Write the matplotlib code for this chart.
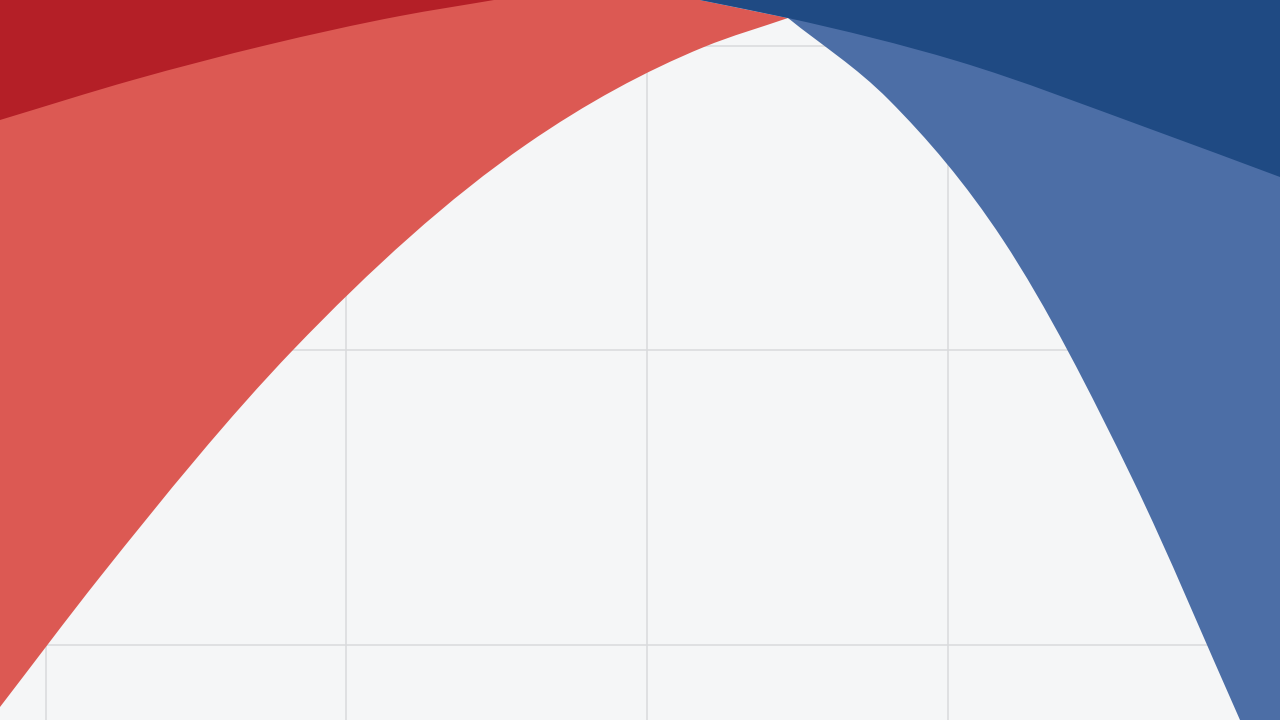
import matplotlib.pyplot as plt
from matplotlib.path import Path
from matplotlib.patches import PathPatch

# edge points (pixel units, y grows downward)
borde_izq_x = [0, 100, 293, 527, 704, 788]
borde_izq_y = [707, 577, 350, 144, 47, 18]

borde_der_x = [788, 889, 1003, 1133, 1240]
borde_der_y = [18, 100, 240, 480, 720]

borde_rojo_x = [0, 133, 267, 400, 494]
borde_rojo_y = [120, 80, 45, 16, 0]

borde_azul_x = [700, 788, 957, 1153, 1280]
borde_azul_y = [0, 18, 61, 130, 177]

grid_x = [46, 346, 647, 948]
grid_y = [46, 350, 645]


def curva(xs, ys):
    # cubic hermite pieces in x (like a monotone-x line) so the edge stays smooth
    n = len(xs)
    h = [xs[i + 1] - xs[i] for i in range(n - 1)]
    s = [(ys[i + 1] - ys[i]) / h[i] for i in range(n - 1)]
    m = [s[0]]
    for i in range(1, n - 1):
        m.append((s[i - 1] * h[i] + s[i] * h[i - 1]) / (h[i - 1] + h[i]))
    m.append(s[-1])
    verts = []
    for i in range(n - 1):
        d = h[i] / 3
        verts += [(xs[i] + d, ys[i] + m[i] * d),
                  (xs[i + 1] - d, ys[i + 1] - m[i + 1] * d),
                  (xs[i + 1], ys[i + 1])]
    return (xs[0], ys[0]), verts


def forma(ax, xs, ys, esquinas, color):
    inicio, verts = curva(xs, ys)
    v = [inicio] + verts
    codes = [Path.MOVETO] + [Path.CURVE4] * len(verts)
    for e in esquinas:
        v.append(e)
        codes.append(Path.LINETO)
    v.append(inicio)
    codes.append(Path.CLOSEPOLY)
    ax.add_patch(PathPatch(Path(v, codes), facecolor=color, lw=0, zorder=2))


fig = plt.figure(figsize=(12.8, 7.2), dpi=100)
fig.patch.set_facecolor('#f5f6f7')
ax = fig.add_axes([0, 0, 1, 1])
ax.set_facecolor('#f5f6f7')

# rojo claro: todo lo que queda a la izquierda del borde izquierdo
forma(ax, borde_izq_x, borde_izq_y, [(700, 0), (0, 0)], '#dc5953')
# azul claro: a la derecha del borde derecho
forma(ax, borde_der_x, borde_der_y, [(1280, 720), (1280, 0), (700, 0)], '#4c6ea6')
# franjas oscuras arriba
forma(ax, borde_rojo_x, borde_rojo_y, [(0, 0)], '#b41f27')
forma(ax, borde_azul_x, borde_azul_y, [(1280, 0)], '#1f4a83')

ax.set_xlim(0, 1280)
ax.set_ylim(720, 0)
ax.set_xticks(grid_x)
ax.set_yticks(grid_y)
ax.grid(True, color='#d9dadc', lw=1.1, zorder=0)
ax.set_axisbelow(True)
ax.tick_params(length=0, labelbottom=False, labelleft=False)
for s in ax.spines.values():
    s.set_visible(False)

fig.savefig('out.png', dpi=100, facecolor=fig.get_facecolor())
